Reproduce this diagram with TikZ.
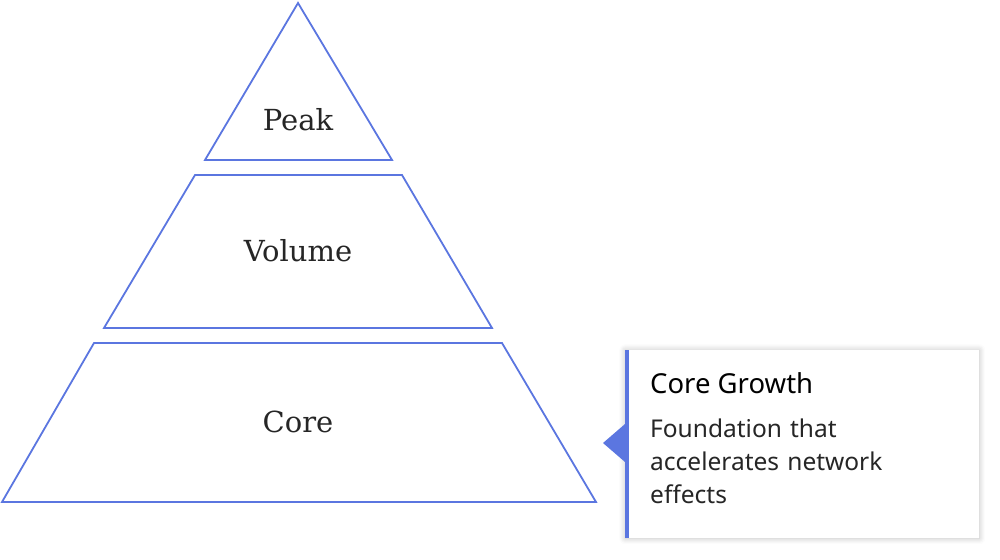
\documentclass[tikz,border=0pt]{standalone}
\usepackage{fontspec}
\newfontfamily\calfont{Noto Sans}
\newfontfamily\serfont{DejaVu Serif}
\usetikzlibrary{shadows.blur}
\definecolor{pblue}{HTML}{5B76E0}
\begin{document}
\begin{tikzpicture}[x=1pt,y=-1pt,
  tier/.style={draw=pblue,line width=1.8pt,fill=white,line join=miter},
  lab/.style={font=\serfont\fontsize{29}{34}\selectfont,text=black!85}]
\useasboundingbox (0,0) rectangle (1000,559);
\draw[tier] (298,3) -- (392,160) -- (205,160) -- cycle;
\draw[tier] (195,175) -- (402,175) -- (492,328) -- (104,328) -- cycle;
\draw[tier] (94,343) -- (502,343) -- (596,502) -- (2,502) -- cycle;
\node[lab] (peak) at (298,120) {Peak};
\node[lab] (vol) at (298,251) {Volume};
\node[lab] (core) at (298,422) {Core};
\node[draw=none,fill=white,minimum width=354pt,minimum height=188pt,anchor=north west,
  blur shadow={shadow blur steps=6,shadow xshift=0pt,shadow yshift=0pt,shadow blur radius=6pt,shadow opacity=25}] (box) at (625,350) {};
\fill[pblue] (box.north west) rectangle ([xshift=3.5pt]box.south west);
\fill[pblue] (625,424) -- (603,443) -- (625,462) -- cycle;
\node[anchor=north west,align=left,inner sep=0pt,font=\calfont\fontsize{27.5}{33}\selectfont] (title) at (650,372) {Core Growth};
\node[anchor=north west,align=left,inner sep=0pt,text width=320pt,font=\calfont\fontsize{24.5}{33}\selectfont,text=black!85] (body) at (650,419) {Foundation that\\accelerates network\\effects};
\end{tikzpicture}
\end{document}
